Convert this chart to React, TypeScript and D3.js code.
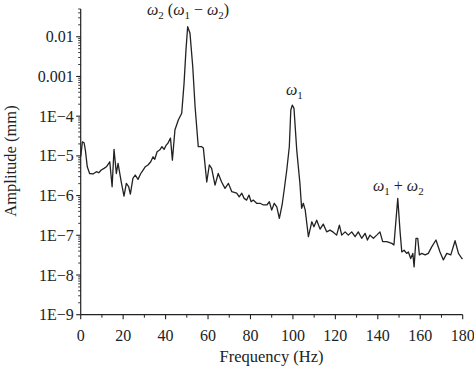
import React from "react";
import * as d3 from "d3";

const freqHz: number[] = [
  0, 0.8, 1.6, 2.2, 3.1, 4.2, 5.8, 7.4, 8.5, 9.7, 11, 12.1, 13.7, 14.8, 15.7, 16.8, 17.6,
  19.1, 20.4, 21.5, 22.6, 23.4, 24.6, 25.7, 27.0, 28.3, 29.4, 30.4, 31.7, 33.0, 34.1, 34.9,
  36.0, 37.2, 38.3, 39.3, 40.3, 41.1, 42.3, 43.2, 44.4, 46.0, 47.6, 48.7, 49.6, 50.4, 51.5,
  52.8, 53.9, 55.4, 57.0, 57.8, 59.4, 60.6, 61.7, 63.3, 64.8, 66.4, 68.0, 69.6, 71.2, 73.5,
  74.7, 75.9, 77.0, 78.2, 79.3, 80.3, 81.3, 82.9, 84.5, 86.1, 87.7, 88.9, 90.0, 91.2, 92.4,
  93.6, 94.9, 96.0, 97.1, 98.3, 99.0, 99.7, 100.5, 101.8, 103.3, 104.1, 104.9, 105.8, 107.3,
  108.9, 109.9, 111.2, 112.8, 114.3, 115.9, 117.5, 119.0, 120.6, 121.9, 123.0, 124.6, 126.1,
  127.7, 129.3, 130.8, 132.4, 134.0, 135.1, 136.3, 137.9, 139.5, 141.0, 142.3, 144.2, 146.6,
  147.6, 149.4, 150.5, 151.3, 152.4, 153.6, 154.4, 155.5, 156.5, 157.1, 158.0, 158.8, 159.6,
  160.7, 162.3, 163.8, 165.4, 167.4, 169.3, 170.9, 172.5, 174.4, 176.4, 178.0, 179.6, 180,
];

const amplitudeMm: number[] = [
  9.5e-6, 2.26e-5, 2.14e-5, 1.4e-5, 5.3e-6, 3.6e-6, 3.5e-6, 4.0e-6, 3.75e-6, 4.4e-6, 4.85e-6,
  5.3e-6, 7.1e-6, 1.67e-6, 1.46e-5, 3.6e-6, 6.5e-6, 2.2e-6, 9.7e-7, 2.03e-6, 1.67e-6, 1.09e-6,
  2.7e-6, 3.3e-6, 2.56e-6, 3.6e-6, 4.4e-6, 5.3e-6, 5.9e-6, 7.1e-6, 9.5e-6, 8.2e-6, 1.27e-5,
  1.4e-5, 1.7e-5, 1.46e-5, 1.87e-5, 2.07e-5, 2.8e-5, 7.8e-6, 4.5e-5, 8.0e-5, 1.18e-4, 6.7e-4,
  4.6e-3, 0.0179, 0.0122, 1.75e-3, 1.73e-4, 1.7e-5, 1.7e-5, 1.57e-5, 2.2e-6, 5.9e-6, 4.85e-6,
  1.84e-6, 3.6e-6, 2.2e-6, 1.52e-6, 2.03e-6, 1.25e-6, 1.16e-6, 9.3e-7, 1.15e-6, 8.5e-7, 7.7e-7,
  1.03e-6, 7.0e-7, 7.7e-7, 6.4e-7, 6.4e-7, 5.8e-7, 5.8e-7, 7.0e-7, 4.3e-7, 6.4e-7, 5.2e-7,
  2.67e-7, 5.8e-7, 1.55e-6, 4.4e-6, 1.7e-5, 1.43e-4, 1.9e-4, 1.57e-4, 1.4e-5, 2.03e-6, 4.8e-7,
  6.4e-7, 4.3e-7, 9.2e-8, 2.19e-7, 1.64e-7, 2.4e-7, 1.43e-7, 1.91e-7, 1.22e-7, 1.35e-7, 1.2e-7,
  1.01e-7, 1.8e-7, 1.01e-7, 1.22e-7, 1.01e-7, 1.22e-7, 9.2e-8, 1.22e-7, 8.4e-8, 1.12e-7, 7.6e-8,
  1.01e-7, 8.4e-8, 1.01e-7, 1.22e-7, 6.9e-8, 6.9e-8, 6.25e-8, 5.7e-8, 8.5e-7, 1.22e-7, 3.8e-8,
  4.2e-8, 3.5e-8, 3.8e-8, 2.6e-8, 3.5e-8, 1.6e-8, 8.4e-8, 8.4e-8, 3.2e-8, 3.5e-8, 3.2e-8,
  3.5e-8, 5.1e-8, 7.6e-8, 3.8e-8, 2.4e-8, 3.5e-8, 3.2e-8, 7.3e-8, 3.5e-8, 2.6e-8, 2.6e-8,
];

const xTicks: number[] = [0, 20, 40, 60, 80, 100, 120, 140, 160, 180];
const xMinorTicks: number[] = [10, 30, 50, 70, 90, 110, 130, 150, 170];
const yTicks: number[] = [1e-9, 1e-8, 1e-7, 1e-6, 1e-5, 1e-4, 1e-3, 1e-2];
const yTickLabels: string[] = ["1E−9", "1E−8", "1E−7", "1E−6", "1E−5", "1E−4", "0.001", "0.01"];

const FONT = "'Liberation Serif', 'Times New Roman', serif";

export default function App() {
  const W = 474;
  const H = 376;
  const x = d3.scaleLinear().domain([0, 180]).range([80.7, 462.7]);
  const y = d3.scaleLog().domain([1e-9, 0.05]).range([314.7, 9]);

  const pts: [number, number][] = freqHz.map((f, i) => [f, amplitudeMm[i]]);
  const line = d3
    .line<[number, number]>()
    .x((d) => x(d[0]))
    .y((d) => y(d[1]));

  const minorY: number[] = [];
  for (let e = -9; e <= -2; e++) {
    for (let m = 2; m <= 9; m++) {
      const v = m * Math.pow(10, e);
      if (v <= 0.05 + 1e-12) minorY.push(v);
    }
  }

  const x0 = x(0);
  const yb = y(1e-9);

  return (
    <svg
      width={W}
      height={H}
      style={{ position: "absolute", left: 0, top: 0, background: "#fff" }}
      fontFamily={FONT}
    >
      <rect x={0} y={0} width={W} height={H} fill="#fff" />
      <line x1={x0} x2={x0} y1={y(0.05)} y2={yb} stroke="#222" strokeWidth={1.2} />
      <line x1={x0} x2={x(180)} y1={yb} y2={yb} stroke="#222" strokeWidth={1.2} />
      {minorY.map((v, i) => (
        <line key={"my" + i} x1={x0 - 2.5} x2={x0} y1={y(v)} y2={y(v)} stroke="#222" strokeWidth={0.9} />
      ))}
      {yTicks.map((v, i) => (
        <g key={"yt" + i}>
          <line x1={x0 - 4.5} x2={x0} y1={y(v)} y2={y(v)} stroke="#222" strokeWidth={1.1} />
          <text x={x0 - 7} y={y(v)} dy="0.35em" textAnchor="end" fontSize={16} fill="#222">
            {yTickLabels[i]}
          </text>
        </g>
      ))}
      {xTicks.map((v, i) => (
        <g key={"xt" + i}>
          <line x1={x(v)} x2={x(v)} y1={yb} y2={yb + 4.5} stroke="#222" strokeWidth={1.1} />
          <text x={x(v)} y={yb + 26.5} textAnchor="middle" fontSize={16} fill="#222">
            {v}
          </text>
        </g>
      ))}
      {xMinorTicks.map((v, i) => (
        <line key={"xm" + i} x1={x(v)} x2={x(v)} y1={yb} y2={yb + 3} stroke="#222" strokeWidth={1} />
      ))}
      <path d={line(pts) || ""} fill="none" stroke="#222" strokeWidth={1.3} strokeLinejoin="round" />
      <text x={271.5} y={362} textAnchor="middle" fontSize={16.5} fill="#222">
        Frequency (Hz)
      </text>
      <text transform={`translate(16,161) rotate(-90)`} textAnchor="middle" fontSize={16.5} fill="#222">
        Amplitude (mm)
      </text>
      <text x={147} y={15} fontSize={16} fill="#222">
        <tspan fontStyle="italic">ω</tspan>
        <tspan fontSize={11} dy={4}>2</tspan>
        <tspan dy={-4}> (</tspan>
        <tspan fontStyle="italic">ω</tspan>
        <tspan fontSize={11} dy={4}>1</tspan>
        <tspan dy={-4}> − </tspan>
        <tspan fontStyle="italic">ω</tspan>
        <tspan fontSize={11} dy={4}>2</tspan>
        <tspan dy={-4}>)</tspan>
      </text>
      <text x={286} y={95} fontSize={16} fill="#222">
        <tspan fontStyle="italic">ω</tspan>
        <tspan fontSize={11} dy={4}>1</tspan>
      </text>
      <text x={373} y={190.5} fontSize={16} fill="#222">
        <tspan fontStyle="italic">ω</tspan>
        <tspan fontSize={11} dy={4}>1</tspan>
        <tspan dy={-4}> + </tspan>
        <tspan fontStyle="italic">ω</tspan>
        <tspan fontSize={11} dy={4}>2</tspan>
      </text>
    </svg>
  );
}
